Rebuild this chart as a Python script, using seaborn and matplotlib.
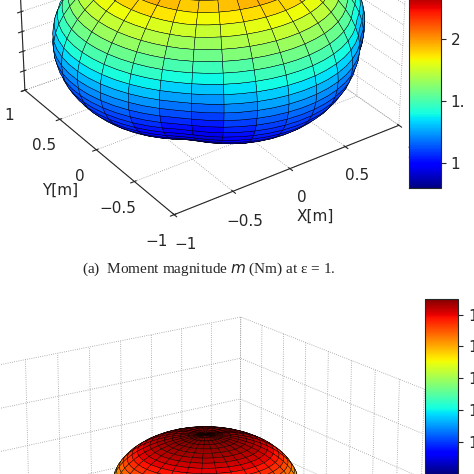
import numpy as np
import matplotlib
matplotlib.use("Agg")
import matplotlib.pyplot as plt
import seaborn as sns
from matplotlib import cm

sns.set_style("white")
plt.rcParams['font.family'] = ['Liberation Serif', 'DejaVu Serif']

# shape parameters (read approx. from picture)
top_shape = [0.12, 1.45]          # tip radius, top gain
top_color = [0.9, 0.6, 1.6]       # base, gain, exponent of colour vs height
top_clim = [0.8, 2.4]
top_ticks = [1, 1.5, 2]
bot_shape = [0.55, 0.3]
bot_clim = [0.9, 1.45]
bot_ticks = [1.0, 1.1, 1.2, 1.3, 1.4]
ax_ticks = [-1, -0.5, 0, 0.5, 1]
ax_labels = ['−1', '−0.5', '0', '0.5', '1']

fig = plt.figure(figsize=(4.74, 4.74), dpi=100)

def style(ax):
    for a in (ax.xaxis, ax.yaxis, ax.zaxis):
        a.set_pane_color((1, 1, 1, 0))
        a._axinfo['grid'].update(linestyle=':', color='0.6', linewidth=0.6)

# --- top panel
ax1 = fig.add_axes([-0.02, 0.47, 0.9, 0.95], projection='3d')
u = np.linspace(0, 2*np.pi, 64)
v = np.linspace(0, np.pi, 44)
U, V = np.meshgrid(u, v)
H = (1 + np.cos(V))/2
R = top_shape[0] + top_shape[1]*H**0.8 + 0.08*np.abs(np.cos(2*U))*np.sin(V)
X = R*np.sin(V)*np.cos(U)
Y = R*np.sin(V)*np.sin(U)
Z = R*np.cos(V)
norm1 = plt.Normalize(*top_clim)
C = top_color[0] + top_color[1]*np.clip(Z, 0, None)**top_color[2] + 0.15*np.abs(np.cos(2*U))*np.sin(V)**2
ax1.plot_surface(X, Y, Z, facecolors=cm.jet(norm1(C)), edgecolor='k', linewidth=0.3, shade=False)
ax1.set_xlim(-1, 1); ax1.set_ylim(-1, 1); ax1.set_zlim(-0.5, 1.7)
ax1.set_xticks(ax_ticks); ax1.set_yticks(ax_ticks)
ax1.set_xticklabels(ax_labels, fontsize=11, fontfamily='DejaVu Sans')
ax1.set_yticklabels(ax_labels, fontsize=11, fontfamily='DejaVu Sans')
ax1.set_zticklabels([])
ax1.set_xlabel('X[m]', fontfamily='DejaVu Sans', fontsize=11)
ax1.set_ylabel('Y[m]', fontfamily='DejaVu Sans', fontsize=11)
ax1.view_init(elev=30, azim=-125)
style(ax1)
cax1 = fig.add_axes([0.862, 0.603, 0.068, 0.42])
cb1 = fig.colorbar(cm.ScalarMappable(norm=norm1, cmap='jet'), cax=cax1, ticks=top_ticks)
cb1.ax.set_yticklabels(['1', '1.', '2'], fontsize=11, fontfamily='DejaVu Sans')

fig.text(0.44, 0.425, r'(a)  Moment magnitude $m$ (Nm) at ε = 1.', ha='center', fontsize=11)

# --- bottom panel
ax2 = fig.add_axes([-0.08, -0.54, 1.0, 1.0], projection='3d')
u2 = np.linspace(0, 2*np.pi, 60)
v2 = np.linspace(0, np.pi/2, 25)
U2, V2 = np.meshgrid(u2, v2)
R2 = bot_shape[0] + bot_shape[1]*np.cos(V2)
X2 = R2*np.sin(V2)*np.cos(U2)
Y2 = R2*np.sin(V2)*np.sin(U2)
Z2 = R2*np.cos(V2)
norm2 = plt.Normalize(*bot_clim)
C2 = 0.95 + 0.5*np.cos(V2)**0.7
ax2.plot_surface(X2, Y2, Z2, facecolors=cm.jet(norm2(C2)), edgecolor='k', linewidth=0.3, shade=False)
ax2.set_xlim(-1, 1); ax2.set_ylim(-1, 1); ax2.set_zlim(-1, 1.5)
ax2.set_xticklabels([]); ax2.set_yticklabels([]); ax2.set_zticklabels([])
ax2.view_init(elev=20, azim=-125)
style(ax2)
cax2 = fig.add_axes([0.897, 0.0, 0.07, 0.37])
cb2 = fig.colorbar(cm.ScalarMappable(norm=norm2, cmap='jet'), cax=cax2, ticks=bot_ticks)
cb2.ax.set_yticklabels(['1.', '1.', '1.', '1.', '1.'], fontsize=11, fontfamily='DejaVu Sans')

fig.savefig('out.png', dpi=100)
